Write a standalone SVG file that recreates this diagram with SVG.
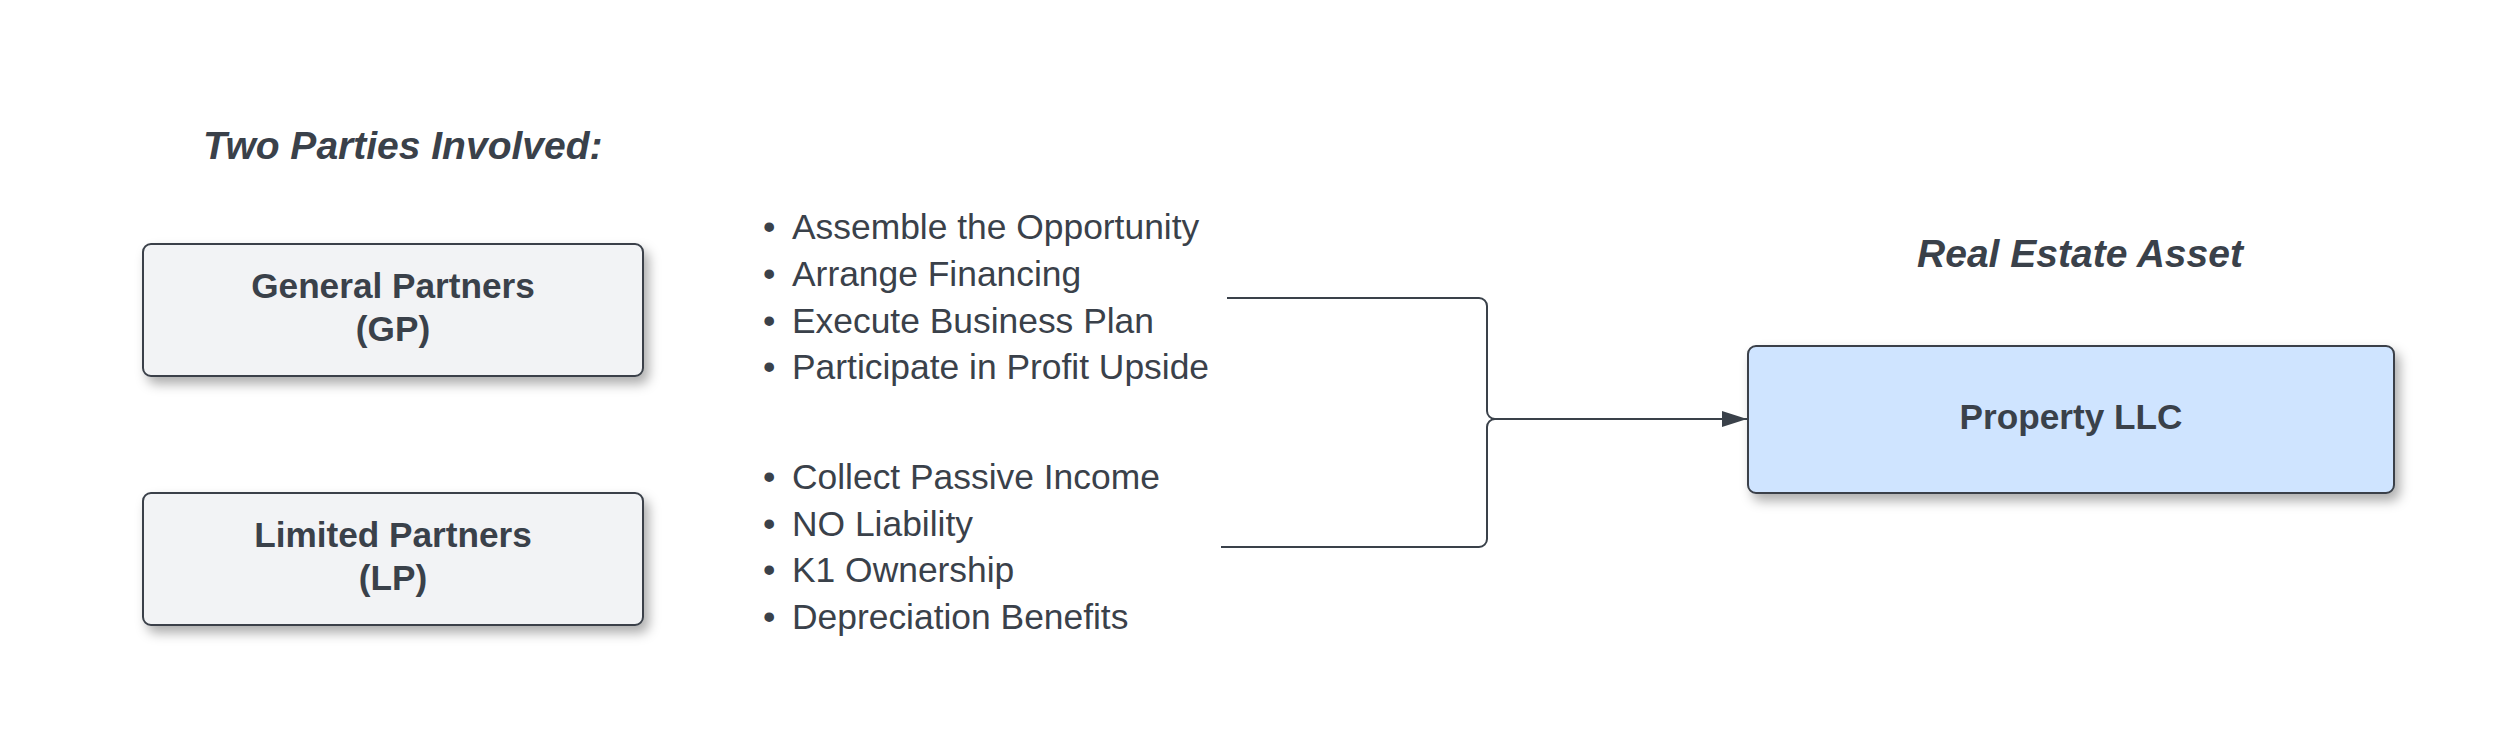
<svg xmlns="http://www.w3.org/2000/svg" width="2500" height="751" viewBox="0 0 2500 751">
<defs>
<style>
.t{font-family:"Liberation Sans",Arial,sans-serif;fill:#3a414a}
.h{font-size:39px;font-weight:bold;font-style:italic}
.b{font-size:35.2px;font-weight:bold}
.l{font-size:35.4px}
.box{stroke:#3a414a;stroke-width:2}
.grey{fill:#f2f3f5}
.blue{fill:#cfe4ff}
.c{fill:none;stroke:#3a414a;stroke-width:2}
</style>
<filter id="sh" x="-10%" y="-20%" width="130%" height="170%">
<feDropShadow dx="5" dy="7" stdDeviation="6" flood-color="#000" flood-opacity="0.32"/>
</filter>
<marker id="ah" markerUnits="userSpaceOnUse" markerWidth="26" markerHeight="16" refX="25" refY="8" orient="auto">
<path d="M0,0 L25,8 L0,16 Z" fill="#3a414a"/>
</marker>
</defs>
<rect width="2500" height="751" fill="#ffffff"/>
<g id="title">
<text class="t h" x="203" y="159">Two Parties Involved:</text>
</g>
<g id="asset-title">
<text class="t h" x="2080" y="267" text-anchor="middle">Real Estate Asset</text>
</g>
<g id="gp">
<rect class="box grey" x="143" y="244" width="500" height="132" rx="8" filter="url(#sh)"/>
<text class="t b" x="393" y="298" text-anchor="middle">General Partners</text>
<text class="t b" x="393" y="341" text-anchor="middle">(GP)</text>
</g>
<g id="lp">
<rect class="box grey" x="143" y="493" width="500" height="132" rx="8" filter="url(#sh)"/>
<text class="t b" x="393" y="547" text-anchor="middle">Limited Partners</text>
<text class="t b" x="393" y="590" text-anchor="middle">(LP)</text>
</g>
<g id="gp-list">
<text class="t l"><tspan x="763" y="239">•</tspan><tspan x="792" y="239">Assemble the Opportunity</tspan></text>
<text class="t l"><tspan x="763" y="286">•</tspan><tspan x="792" y="286">Arrange Financing</tspan></text>
<text class="t l"><tspan x="763" y="333">•</tspan><tspan x="792" y="333">Execute Business Plan</tspan></text>
<text class="t l"><tspan x="763" y="379">•</tspan><tspan x="792" y="379">Participate in Profit Upside</tspan></text>
</g>
<g id="lp-list">
<text class="t l"><tspan x="763" y="489">•</tspan><tspan x="792" y="489">Collect Passive Income</tspan></text>
<text class="t l"><tspan x="763" y="536">•</tspan><tspan x="792" y="536">NO Liability</tspan></text>
<text class="t l"><tspan x="763" y="582">•</tspan><tspan x="792" y="582">K1 Ownership</tspan></text>
<text class="t l"><tspan x="763" y="629">•</tspan><tspan x="792" y="629">Depreciation Benefits</tspan></text>
</g>
<g id="property">
<rect class="box blue" x="1748" y="346" width="646" height="147" rx="8" filter="url(#sh)"/>
<text class="t b" x="2071" y="429" text-anchor="middle">Property LLC</text>
</g>
<g id="connectors">
<path class="c" d="M1227,298 H1479 A8,8 0 0 1 1487,306 V411 A8,8 0 0 0 1495,419 H1747" marker-end="url(#ah)"/>
<path class="c" d="M1221,547 H1479 A8,8 0 0 0 1487,539 V427 A8,8 0 0 1 1495,419"/>
</g>
</svg>
